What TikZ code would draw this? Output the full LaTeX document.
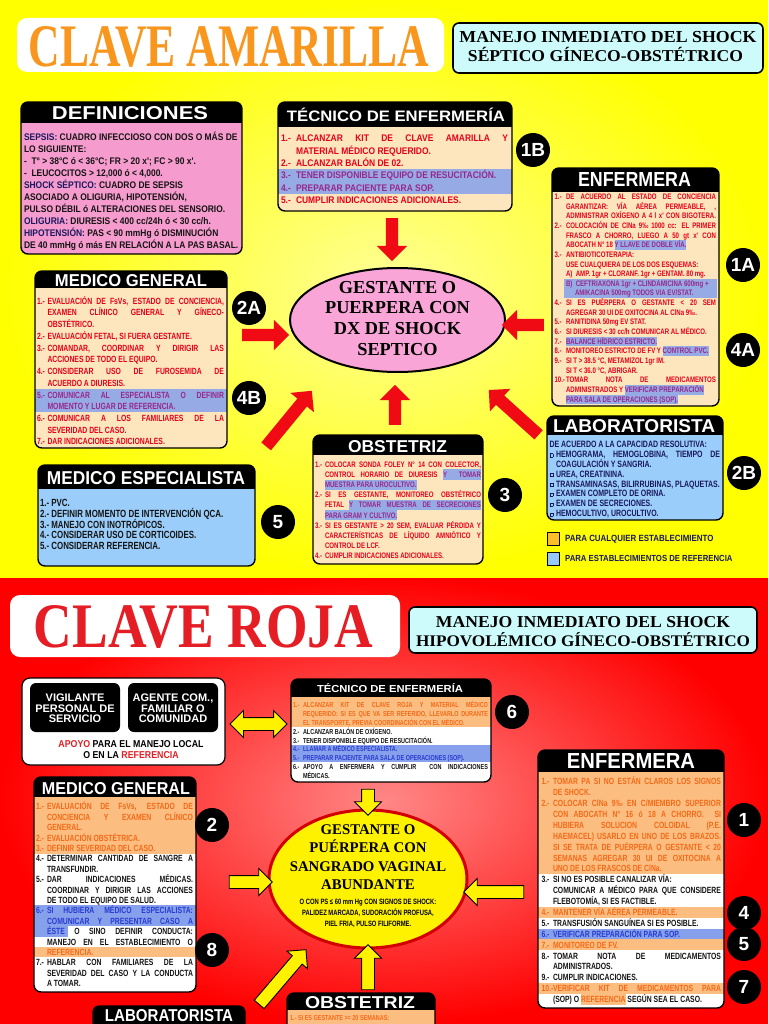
\documentclass[tikz,border=0pt]{standalone}
\usepackage{fontspec}
\usepackage{graphicx}
\usetikzlibrary{shapes.geometric,shapes.arrows}
\newfontfamily\nbA{Liberation Sans Bold}[FakeStretch=0.88]
\newfontfamily\nbB{Liberation Sans Bold}[FakeStretch=0.76]
\newfontfamily\hdfont{Liberation Sans Bold}[FakeStretch=1.1]
\newfontfamily\cfont{Liberation Sans Bold}
\newfontfamily\serB{Liberation Serif Bold}
\newfontfamily\serW{Liberation Serif Bold}[FakeStretch=1.06]
\definecolor{ybg}{RGB}{255,255,0}
\definecolor{ybgc}{RGB}{255,255,150}
\definecolor{rbg}{RGB}{255,0,0}
\definecolor{rbgc}{RGB}{255,135,135}
\definecolor{titor}{RGB}{248,150,30}
\definecolor{titred}{RGB}{228,30,36}
\definecolor{cyanbox}{RGB}{205,250,250}
\definecolor{pinkb}{RGB}{246,155,205}
\definecolor{pinke}{RGB}{250,165,215}
\definecolor{beige}{RGB}{253,230,190}
\definecolor{bandblue}{RGB}{150,170,230}
\definecolor{tred}{RGB}{230,0,25}
\definecolor{tpurp}{RGB}{150,40,140}
\definecolor{labb}{RGB}{155,205,250}
\definecolor{navy}{RGB}{25,25,95}
\definecolor{bandor}{RGB}{251,190,128}
\definecolor{tor}{RGB}{245,105,25}
\definecolor{bandbl2}{RGB}{135,160,235}
\definecolor{tblue}{RGB}{40,60,210}
\definecolor{tblk}{RGB}{20,20,20}
\definecolor{legor}{RGB}{250,190,45}
\definecolor{legbl}{RGB}{150,200,250}
\definecolor{arrred}{RGB}{240,10,20}
\definecolor{ellred}{RGB}{210,0,0}
\newcounter{tl}
\newcommand\bxsetup[7]{%
  \gdef\yz{#1}\gdef\ls{#2}\gdef\fs{#3}\gdef\xa{#4}\gdef\xb{#5}\gdef\xr{#6}\gdef\fmy{#7}%
  \pgfmathsetmacro\capo{0.36*#3}\xdef\capo{\capo}%
  \pgfmathsetmacro\hdp{#2/2-0.36*#3}\xdef\hdp{\hdp}%
  \pgfmathsetmacro\wa{#6-#4}\xdef\wa{\wa}%
  \pgfmathsetmacro\wb{#6-#5}\xdef\wb{\wb}}
\newcommand\tcol[1]{\gdef\tcc{#1}}
\tcol{tblk}
\newcommand\Lx[3]{\stepcounter{tl}\node[txt,anchor=base west] (t\arabic{tl}) at (#1,{\yz+(#2)*\ls+\capo}) {#3};}
\newcommand\Lp[2]{\Lx{\xa}{#1}{#2}}
\newcommand\Lc[2]{\Lx{\xb}{#1}{#2}}
\newcommand\LpJ[2]{\Lx{\xa}{#1}{\makebox[\wa pt][s]{#2}}}
\newcommand\LcJ[2]{\Lx{\xb}{#1}{\makebox[\wb pt][s]{#2}}}
\newcommand\Li[3]{\Lp{#1}{#2}\Lc{#1}{#3}}
\newcommand\LiJ[3]{\Lp{#1}{#2}\LcJ{#1}{#3}}
\newcommand\bnd[5]{\fill[#1] (#4,{\yz+(#2)*\ls-\ls/2}) rectangle (#5,{\yz+(#3)*\ls+\ls/2});}
\newcommand\hlc[3]{{\setlength\fboxsep{0pt}\colorbox{#1}{\rule[-\hdp pt]{0pt}{\ls pt}\color{#2}#3}}}
\newcommand\hlb[1]{\hlc{bandblue}{tpurp}{#1}}
\newcommand\hlo[1]{\hlc{bandor}{tor}{#1}}
\newcommand\lab[1]{{\color{navy}#1}}
\newcommand\sqb{{\setlength\fboxsep{0pt}\setlength\fboxrule{0.6pt}\raisebox{0.8pt}{\fbox{\rule{2.6pt}{0pt}\rule{0pt}{2.6pt}}}}}
\newcommand\panelbg[6]{\begin{scope}\clip[rounded corners=7pt] (#1,#2) rectangle (#3,#4);
  \fill[#6] (#1,#2) rectangle (#3,#4);\fill[black] (#1,#2) rectangle (#3,#5);\end{scope}}
\newcommand\panelfr[4]{\draw[line width=1.4pt,rounded corners=7pt] (#1,#2) rectangle (#3,#4);}
\begin{document}
\begin{tikzpicture}[x=1pt,y=-1pt,
  txt/.style={inner sep=0pt,outer sep=0pt,font=\fmy\fontsize{\fs}{\ls}\selectfont,text=\tcc},
  hd/.style={inner sep=0pt,text=white,font=\hdfont},
  circ/.style={circle,fill=black,minimum size=34pt,inner sep=0pt,text=white,font=\cfont\fontsize{19}{19}\selectfont},
  redarr/.style={single arrow,fill=arrred,inner xsep=0pt,inner ysep=6pt,single arrow head extend=9pt},
  yarr/.style={single arrow,fill=yellow,draw=black,line width=0.9pt,inner xsep=0pt,inner ysep=6pt,single arrow head extend=7pt},
  vtx/.style={inner sep=0pt,text=white,font=\cfont\fontsize{11}{11}\selectfont,anchor=base},
  etx/.style={inner sep=0pt,anchor=base,font=\serB\fontsize{18.3}{20}\selectfont},
  etb/.style={inner sep=0pt,anchor=base,font=\serB\fontsize{14.8}{18}\selectfont},
  ets/.style={inner sep=0pt,anchor=base,font=\nbB\fontsize{7.7}{9}\selectfont}]
\useasboundingbox (0,0) rectangle (768,1024);
\clip (0,0) rectangle (768,1024);
% backgrounds
\shade[inner color=ybgc,outer color=ybg] (0,0) rectangle (768,578);
\shade[inner color=rbgc,outer color=rbg] (0,578) rectangle (768,1024);
% titles
\fill[white,rounded corners=10pt] (17,18) rectangle (444,72);
\node[inner sep=0pt,anchor=base,text=titor] (tit1) at (229,67) {\resizebox{400pt}{40pt}{\serB CLAVE AMARILLA}};
\draw[fill=cyanbox,line width=1.6pt,rounded corners=6pt] (453,23) rectangle (763,73);
\node[inner sep=0pt,anchor=base] (sub1a) at (608,43) {\resizebox{297pt}{!}{\serW MANEJO INMEDIATO DEL SHOCK}};
\node[inner sep=0pt,anchor=base] (sub1b) at (605.5,61.5) {\resizebox{275pt}{!}{\serW SÉPTICO GÍNECO-OBSTÉTRICO}};
\fill[white,rounded corners=10pt] (10,595) rectangle (400,657);
\node[inner sep=0pt,anchor=base,text=titred] (tit2) at (203.5,647) {\resizebox{339pt}{42pt}{\serB CLAVE ROJA}};
\draw[fill=cyanbox,line width=1.6pt,rounded corners=6pt] (409,607) rectangle (757,653);
\node[inner sep=0pt,anchor=base] (sub2a) at (583,627) {\resizebox{294pt}{!}{\serW MANEJO INMEDIATO DEL SHOCK}};
\node[inner sep=0pt,anchor=base] (sub2b) at (583,646) {\resizebox{334pt}{!}{\serW HIPOVOLÉMICO GÍNECO-OBSTÉTRICO}};
% ===== DEFINICIONES
\panelbg{21}{102}{242}{254}{123}{pinkb}
\bxsetup{137.3}{11.97}{9.6}{24}{24}{238}{\nbA}\tcol{tblk}
\Lp{0}{\lab{SEPSIS:} CUADRO INFECCIOSO CON DOS O MÁS DE}
\Lp{1}{LO SIGUIENTE:}
\Lp{2}{-\ \ T° > 38°C ó < 36°C; FR > 20 x'; FC > 90 x'.}
\Lp{3}{-\ \ LEUCOCITOS > 12,000 ó < 4,000.}
\Lp{4}{\lab{SHOCK SÉPTICO:} CUADRO DE SEPSIS}
\Lp{5}{ASOCIADO A OLIGURIA, HIPOTENSIÓN,}
\Lp{6}{PULSO DÉBIL ó ALTERACIONES DEL SENSORIO.}
\Lp{7}{\lab{OLIGURIA:} DIURESIS < 400 cc/24h ó < 30 cc/h.}
\Lp{8}{\lab{HIPOTENSIÓN:} PAS < 90 mmHg ó DISMINUCIÓN}
\Lp{9}{DE 40 mmHg ó más EN RELACIÓN A LA PAS BASAL.}
\panelfr{21}{102}{242}{254}
\node[hd,anchor=base] (h1) at (130,119.5) {\resizebox{156pt}{13pt}{DEFINICIONES}};
% ===== TECNICO TOP
\panelbg{278}{102}{512}{211}{127}{beige}
\bxsetup{138.5}{12.3}{9.6}{281}{296}{508}{\nbA}\tcol{tred}
\bnd{bandblue}{3}{4}{278}{512}
\LiJ{0}{1.-}{ALCANZAR KIT DE CLAVE AMARILLA Y}
\Lc{1}{MATERIAL MÉDICO REQUERIDO.}
\Li{2}{2.-}{ALCANZAR BALÓN DE 02.}
\Li{3}{\color{tpurp}3.-}{\color{tpurp}TENER DISPONIBLE EQUIPO DE RESUCITACIÓN.}
\Li{4}{\color{tpurp}4.-}{\color{tpurp}PREPARAR PACIENTE PARA SOP.}
\Li{5}{5.-}{CUMPLIR INDICACIONES ADICIONALES.}
\panelfr{278}{102}{512}{211}
\node[hd] (h2) at (396,114.5) {\resizebox{218pt}{!}{TÉCNICO DE ENFERMERÍA}};
% ===== ENFERMERA TOP
\panelbg{552}{168}{719}{406}{192}{beige}
\bxsetup{196.5}{9.66}{8.0}{554.5}{566}{716}{\nbB}\tcol{tred}
\bnd{bandblue}{9}{10}{564}{717}
\LiJ{0}{1.-}{DE ACUERDO AL ESTADO DE CONCIENCIA}
\LcJ{1}{GARANTIZAR: VÍA AÉREA PERMEABLE, ,}
\LcJ{2}{ADMINISTRAR OXÍGENO A 4 l x' CON BIGOTERA.}
\LiJ{3}{2.-}{COLOCACIÓN DE ClNa 9‰ 1000 cc: EL PRIMER}
\LcJ{4}{FRASCO A CHORRO, LUEGO A 50 gt x' CON}
\Lc{5}{ABOCATH N° 18 \hlb{Y LLAVE DE DOBLE VÍA.}}
\Li{6}{3.-}{ANTIBIOTICOTERAPIA:}
\Lc{7}{USE CUALQUIERA DE LOS DOS ESQUEMAS:}
\Lc{8}{A)\ \ AMP. 1gr + CLORANF. 1gr + GENTAM. 80 mg.}
\Lc{9}{\color{tpurp}B)\ \ CEFTRIAXONA 1gr + CLINDAMICINA 600mg +}
\Lx{575}{10}{\color{tpurp}AMIKACINA 500mg TODOS VIA EV/STAT.}
\LiJ{11}{4.-}{SI ES PUÉRPERA O GESTANTE < 20 SEM}
\Lc{12}{AGREGAR 30 UI DE OXITOCINA AL ClNa 9‰.}
\Li{13}{5.-}{RANITIDINA 50mg EV STAT.}
\Li{14}{6.-}{SI DIURESIS < 30 cc/h COMUNICAR AL MÉDICO.}
\Li{15}{7.-}{\hlb{BALANCE HÍDRICO ESTRICTO.}}
\Li{16}{8.-}{MONITOREO ESTRICTO DE FV Y \hlb{CONTROL PVC.}}
\Li{17}{9.-}{SI T > 38.5 °C, METAMIZOL 1gr IM.}
\Lc{18}{SI T < 36.0 °C, ABRIGAR.}
\LiJ{19}{10.-}{TOMAR NOTA DE MEDICAMENTOS}
\Lc{20}{ADMINISTRADOS Y \hlb{VERIFICAR PREPARACIÓN}}
\Lc{21}{\hlb{PARA SALA DE OPERACIONES (SOP).}}
\panelfr{552}{168}{719}{406}
\node[hd,anchor=base] (h3) at (634.5,186.5) {\resizebox{113pt}{14pt}{ENFERMERA}};
% ===== MEDICO GENERAL TOP
\panelbg{35}{271}{227}{448}{288}{beige}
\bxsetup{301}{11.72}{9.0}{37}{47.5}{224}{\nbB}\tcol{tred}
\bnd{bandblue}{8}{9}{35}{227}
\LiJ{0}{1.-}{EVALUACIÓN DE FsVs, ESTADO DE CONCIENCIA,}
\LcJ{1}{EXAMEN CLÍNICO GENERAL Y GÍNECO-}
\Lc{2}{OBSTÉTRICO.}
\Li{3}{2.-}{EVALUACIÓN FETAL, SI FUERA GESTANTE.}
\LiJ{4}{3.-}{COMANDAR, COORDINAR Y DIRIGIR LAS}
\Lc{5}{ACCIONES DE TODO EL EQUIPO.}
\LiJ{6}{4.-}{CONSIDERAR USO DE FUROSEMIDA DE}
\Lc{7}{ACUERDO A DIURESIS.}
\LiJ{8}{\color{tpurp}5.-}{\color{tpurp}COMUNICAR AL ESPECIALISTA O DEFINIR}
\Lc{9}{\color{tpurp}MOMENTO Y LUGAR DE REFERENCIA.}
\LiJ{10}{6.-}{COMUNICAR A LOS FAMILIARES DE LA}
\Lc{11}{SEVERIDAD DEL CASO.}
\Li{12}{7.-}{DAR INDICACIONES ADICIONALES.}
\panelfr{35}{271}{227}{448}
\node[hd,anchor=base] (h4) at (131,286) {\resizebox{152pt}{12pt}{MEDICO GENERAL}};
% ===== MEDICO ESPECIALISTA
\panelbg{38}{465}{255}{566}{489}{labb}
\bxsetup{503}{10.75}{10.4}{40}{40}{250}{\nbB}\tcol{tblk}
\Lp{0}{1.- PVC.}
\Lp{1}{2.- DEFINIR MOMENTO DE INTERVENCIÓN QCA.}
\Lp{2}{3.- MANEJO CON INOTRÓPICOS.}
\Lp{3}{4.- CONSIDERAR USO DE CORTICOIDES.}
\Lp{4}{5.- CONSIDERAR REFERENCIA.}
\panelfr{38}{465}{255}{566}
\node[hd,anchor=base] (h5) at (146,484.5) {\resizebox{198pt}{13pt}{MEDICO ESPECIALISTA}};
% ===== OBSTETRIZ TOP
\panelbg{313}{435}{483}{564}{455}{beige}
\bxsetup{464.3}{10.2}{8.0}{315}{325}{481}{\nbB}\tcol{tred}
\LiJ{0}{1.-}{COLOCAR SONDA FOLEY N° 14 CON COLECTOR,}
\LcJ{1}{CONTROL HORARIO DE DIURESIS \hlb{\makebox[38pt][s]{Y TOMAR}}}
\Lc{2}{\hlb{MUESTRA PARA UROCULTIVO.}}
\LiJ{3}{2.-}{SI ES GESTANTE, MONITOREO OBSTÉTRICO}
\LcJ{4}{FETAL \hlb{\makebox[132pt][s]{Y TOMAR MUESTRA DE SECRECIONES}}}
\Lc{5}{\hlb{PARA GRAM Y CULTIVO.}}
\LiJ{6}{3.-}{SI ES GESTANTE > 20 SEM, EVALUAR PÉRDIDA Y}
\LcJ{7}{CARACTERÍSTICAS DE LÍQUIDO AMNIÓTICO Y}
\Lc{8}{CONTROL DE LCF.}
\Li{9}{4.-}{CUMPLIR INDICACIONES ADICIONALES.}
\panelfr{313}{435}{483}{564}
\node[hd,anchor=base] (h6) at (397.5,452) {\resizebox{99pt}{12pt}{OBSTETRIZ}};
% ===== LABORATORISTA TOP
\panelbg{547}{416}{723}{520}{435}{labb}
\bxsetup{444.3}{9.85}{9.2}{549.5}{556}{720}{\nbB}\tcol{navy}
\Lp{0}{DE ACUERDO A LA CAPACIDAD RESOLUTIVA:}
\LiJ{1}{\sqb}{HEMOGRAMA, HEMOGLOBINA, TIEMPO DE}
\Lc{2}{COAGULACIÓN Y SANGRIA.}
\Li{3}{\sqb}{UREA, CREATININA.}
\Li{4}{\sqb}{TRANSAMINASAS, BILIRRUBINAS, PLAQUETAS.}
\Li{5}{\sqb}{EXAMEN COMPLETO DE ORINA.}
\Li{6}{\sqb}{EXAMEN DE SECRECIONES.}
\Li{7}{\sqb}{HEMOCULTIVO, UROCULTIVO.}
\panelfr{547}{416}{723}{520}
\node[hd,anchor=base] (h7) at (634,432.5) {\resizebox{162pt}{13pt}{LABORATORISTA}};
% legend
\draw[fill=legor,line width=0.8pt] (547,532) rectangle (559,545);
\node[inner sep=0pt,anchor=base west,font=\nbA\fontsize{9}{11}\selectfont,text=navy] (lg1) at (565,541.5) {PARA CUALQUIER ESTABLECIMIENTO};
\draw[fill=legbl,line width=0.8pt] (547,552) rectangle (559,565);
\node[inner sep=0pt,anchor=base west,font=\nbA\fontsize{8.8}{11}\selectfont,text=navy] (lg2) at (565,561.5) {PARA ESTABLECIMIENTOS DE REFERENCIA};
% top ellipse
\node[ellipse,draw=black,line width=2pt,fill=pinke,minimum width=215pt,minimum height=104pt,inner sep=0pt] (e1) at (397.5,320) {};
\node[etx] (e1a) at (397.5,293) {GESTANTE O};
\node[etx] (e1b) at (397.5,313.5) {PUERPERA CON};
\node[etx] (e1c) at (397.5,334.5) {DX DE SHOCK};
\node[etx] (e1d) at (397.5,355.5) {SEPTICO};
% red arrows
\node[redarr,minimum height=43pt,rotate=-90] (ra1) at (392,236.5) {};
\node[redarr,minimum height=47pt] (ra2) at (262.5,335) {};
\node[redarr,minimum height=42pt,rotate=180] (ra3) at (526,325) {};
\node[redarr,minimum height=40pt,rotate=90] (ra4) at (395,408) {};
\node[redarr,minimum height=72pt,rotate=50.6] (ra5) at (287,421) {};
\node[redarr,minimum height=67pt,rotate=138] (ra6) at (516,414.5) {};
% top circles
\node[circ] (c1B) at (533,150) {1B};
\node[circ] (c1A) at (743,265) {1A};
\node[circ] (c4A) at (743,350) {4A};
\node[circ] (c2A) at (249,308) {2A};
\node[circ] (c4B) at (249,398) {4B};
\node[circ] (c3) at (505,495) {3};
\node[circ] (c2B) at (744,473) {2B};
\node[circ] (c5) at (278,522) {5};
% ===== VIGILANTE GROUP
\draw[fill=white,line width=1.2pt,rounded corners=8pt] (22,678) rectangle (225,765);
\fill[black,rounded corners=6pt] (30,683) rectangle (120,732);
\fill[black,rounded corners=6pt] (128,683) rectangle (218,732);
\node[vtx] (v1) at (75,701) {VIGILANTE};
\node[vtx] (v2) at (75,712) {PERSONAL DE};
\node[vtx] (v3) at (75,722.5) {SERVICIO};
\node[vtx] (v4) at (173,701) {AGENTE COM.,};
\node[vtx] (v5) at (173,712) {FAMILIAR O};
\node[vtx] (v6) at (173,722.5) {COMUNIDAD};
\node[inner sep=0pt,anchor=base,font=\nbA\fontsize{10}{11}\selectfont] (v7) at (131,747.5) {{\color{titred}APOYO} PARA EL MANEJO LOCAL};
\node[inner sep=0pt,anchor=base,font=\nbA\fontsize{10}{11}\selectfont] (v8) at (131,758.5) {O EN LA {\color{titred}REFERENCIA}};
\node[double arrow,fill=yellow,draw=black,line width=0.9pt,inner xsep=0pt,inner ysep=6pt,double arrow head extend=7pt,minimum height=57pt] (yd) at (258.5,724) {};
% ===== TECNICO BOTTOM
\panelbg{291}{679}{491}{782}{697}{white}
\bxsetup{705.2}{8.8}{7.2}{293}{303}{488}{\nbB}
\fill[bandor] (291,697) rectangle (491,727.2);
\bnd{bandbl2}{5}{6}{291}{491}
\tcol{tor}
\LiJ{0}{1.-}{ALCANZAR KIT DE CLAVE ROJA Y MATERIAL MÉDICO}
\LcJ{1}{REQUERIDO: SI ES QUE VA SER REFERIDO, LLEVARLO DURANTE}
\Lc{2}{EL TRANSPORTE, PREVIA COORDINACIÓN CON EL MÉDICO.}
\tcol{tblk}
\Li{3}{2.-}{ALCANZAR BALÓN DE OXÍGENO.}
\Li{4}{3.-}{TENER DISPONIBLE EQUIPO DE RESUCITACIÓN.}
\tcol{tblue}
\Li{5}{4.-}{LLAMAR A MÉDICO ESPECIALISTA.}
\Li{6}{5.-}{PREPARAR PACIENTE PARA SALA DE OPERACIONES (SOP).}
\tcol{tblk}
\LiJ{7}{6.-}{APOYO A ENFERMERA Y CUMPLIR \ CON INDICACIONES}
\Lc{8}{MÉDICAS.}
\panelfr{291}{679}{491}{782}
\node[hd] (h8) at (390,688) {\resizebox{146pt}{!}{TÉCNICO DE ENFERMERÍA}};
% ===== MEDICO GENERAL BOTTOM
\panelbg{34}{777}{196}{992}{797}{white}
\bxsetup{806.7}{10.39}{9.0}{36}{47}{193}{\nbB}
\fill[bandor] (34,797) rectangle (196,853.5);
\bnd{bandbl2}{10}{11}{34}{196}
\bnd{bandbl2}{12}{12}{34}{68}
\bnd{bandor}{14}{14}{34}{196}
\tcol{tor}
\LiJ{0}{1.-}{EVALUACIÓN DE FsVs, ESTADO DE}
\LcJ{1}{CONCIENCIA Y EXAMEN CLÍNICO}
\Lc{2}{GENERAL.}
\Li{3}{2.-}{EVALUACIÓN OBSTÉTRICA.}
\Li{4}{3.-}{DEFINIR SEVERIDAD DEL CASO.}
\tcol{tblk}
\LiJ{5}{4.-}{DETERMINAR CANTIDAD DE SANGRE A}
\Lc{6}{TRANSFUNDIR.}
\LiJ{7}{5.-}{DAR INDICACIONES MÉDICAS.}
\LcJ{8}{COORDINAR Y DIRIGIR LAS ACCIONES}
\Lc{9}{DE TODO EL EQUIPO DE SALUD.}
\tcol{tblue}
\LiJ{10}{6.-}{SI HUBIERA MÉDICO ESPECIALISTA:}
\LcJ{11}{COMUNICAR Y PRESENTAR CASO A}
\tcol{tblk}
\LcJ{12}{{\color{tblue}ÉSTE} O SINO DEFINIR CONDUCTA:}
\LcJ{13}{MANEJO EN EL ESTABLECIMIENTO O}
\Lc{14}{\color{tor}REFERENCIA.}
\LiJ{15}{7.-}{HABLAR CON FAMILIARES DE LA}
\LcJ{16}{SEVERIDAD DEL CASO Y LA CONDUCTA}
\Lc{17}{A TOMAR.}
\panelfr{34}{777}{196}{992}
\node[hd,anchor=base] (h9) at (116,794) {\resizebox{148pt}{12pt}{MEDICO GENERAL}};
% ===== ENFERMERA BOTTOM
\panelbg{538}{750}{724}{1008}{772}{white}
\bxsetup{781.7}{10.88}{9.0}{541.5}{553}{721}{\nbB}
\fill[bandor] (538,772) rectangle (724,874.2);
\bnd{bandor}{12}{12}{538}{724}
\bnd{bandbl2}{14}{14}{538}{724}
\bnd{bandor}{15}{15}{538}{724}
\bnd{bandor}{19}{19}{538}{724}
\tcol{tor}
\LiJ{0}{1.-}{TOMAR PA SI NO ESTÁN CLAROS LOS SIGNOS}
\Lc{1}{DE SHOCK.}
\LiJ{2}{2.-}{COLOCAR ClNa 9‰ EN C/MIEMBRO SUPERIOR}
\LcJ{3}{CON ABOCATH N° 16 ó 18 A CHORRO. \ SI}
\LcJ{4}{HUBIERA SOLUCION COLOIDAL (P.E.}
\LcJ{5}{HAEMACEL) USARLO EN UNO DE LOS BRAZOS.}
\LcJ{6}{SI SE TRATA DE PUÉRPERA O GESTANTE < 20}
\LcJ{7}{SEMANAS AGREGAR 30 UI DE OXITOCINA A}
\Lc{8}{UNO DE LOS FRASCOS DE ClNa.}
\tcol{tblk}
\Li{9}{3.-}{SI NO ES POSIBLE CANALIZAR VÍA:}
\LcJ{10}{COMUNICAR A MÉDICO PARA QUE CONSIDERE}
\Lc{11}{FLEBOTOMÍA, SI ES FACTIBLE.}
\tcol{tor}
\Li{12}{4.-}{MANTENER VÍA AÉREA PERMEABLE.}
\tcol{tblk}
\Li{13}{5.-}{TRANSFUSIÓN SANGUÍNEA SI ES POSIBLE.}
\tcol{tblue}
\Li{14}{6.-}{VERIFICAR PREPARACIÓN PARA SOP.}
\tcol{tor}
\Li{15}{7.-}{MONITOREO DE FV.}
\tcol{tblk}
\LiJ{16}{8.-}{TOMAR NOTA DE MEDICAMENTOS}
\Lc{17}{ADMINISTRADOS.}
\Li{18}{9.-}{CUMPLIR INDICACIONES.}
\tcol{tor}
\LiJ{19}{10.-}{VERIFICAR KIT DE MEDICAMENTOS PARA}
\tcol{tblk}
\Lc{20}{(SOP) O \hlo{REFERENCIA} SEGÚN SEA EL CASO.}
\panelfr{538}{750}{724}{1008}
\node[hd,anchor=base] (h10) at (631,768.5) {\resizebox{128pt}{15pt}{ENFERMERA}};
% ===== OBSTETRIZ BOTTOM
\panelbg{287}{993}{435}{1045}{1010}{white}
\fill[bandor] (287,1010) rectangle (435,1045);
\node[inner sep=0pt,anchor=base west,font=\nbB\fontsize{7.2}{8.8}\selectfont,text=tor] (ob1) at (290,1020.6) {1.- SI ES GESTANTE >= 20 SEMANAS:};
\panelfr{287}{993}{435}{1045}
\node[hd,anchor=base] (h11) at (360,1008) {\resizebox{110pt}{12pt}{OBSTETRIZ}};
% ===== LABORATORISTA BOTTOM
\draw[fill=black,line width=1.2pt,rounded corners=6pt] (93,1006) rectangle (245,1045);
\node[hd,anchor=base] (h12) at (169,1021) {\resizebox{128pt}{12pt}{LABORATORISTA}};
% bottom ellipse
\node[ellipse,draw=ellred,line width=3pt,fill=yellow,minimum width=198pt,minimum height=138pt,inner sep=0pt] (e2) at (368,879) {};
\node[etb] (e2a) at (368,834) {GESTANTE O};
\node[etb] (e2b) at (368,852.5) {PUÉRPERA CON};
\node[etb] (e2c) at (368,871) {SANGRADO VAGINAL};
\node[etb] (e2d) at (368,889.5) {ABUNDANTE};
\node[ets] (e2e) at (368,904) {O CON PS ≤ 60 mm Hg CON SIGNOS DE SHOCK:};
\node[ets] (e2f) at (368,915) {PALIDEZ MARCADA, SUDORACIÓN PROFUSA,};
\node[ets] (e2g) at (368,926) {PIEL FRIA, PULSO FILIFORME.};
% yellow arrows
\node[yarr,minimum height=26pt,rotate=-90] (ya1) at (368,799) {};
\node[yarr,minimum height=43pt] (ya2) at (247.5,882) {};
\node[yarr,minimum height=60pt,rotate=180] (ya3) at (497,892) {};
\node[yarr,minimum height=45pt,rotate=90] (ya4) at (368,970.5) {};
\node[yarr,minimum height=72pt,rotate=49.5] (ya5) at (280.5,979.5) {};
% bottom circles
\node[circ] (c6) at (512,712) {6};
\node[circ] (c2) at (212,825) {2};
\node[circ] (c8) at (212,950) {8};
\node[circ] (c1) at (744,820) {1};
\node[circ] (c4) at (744,913) {4};
\node[circ] (c5b) at (744,944) {5};
\node[circ] (c7) at (744,987) {7};
\end{tikzpicture}
\end{document}
